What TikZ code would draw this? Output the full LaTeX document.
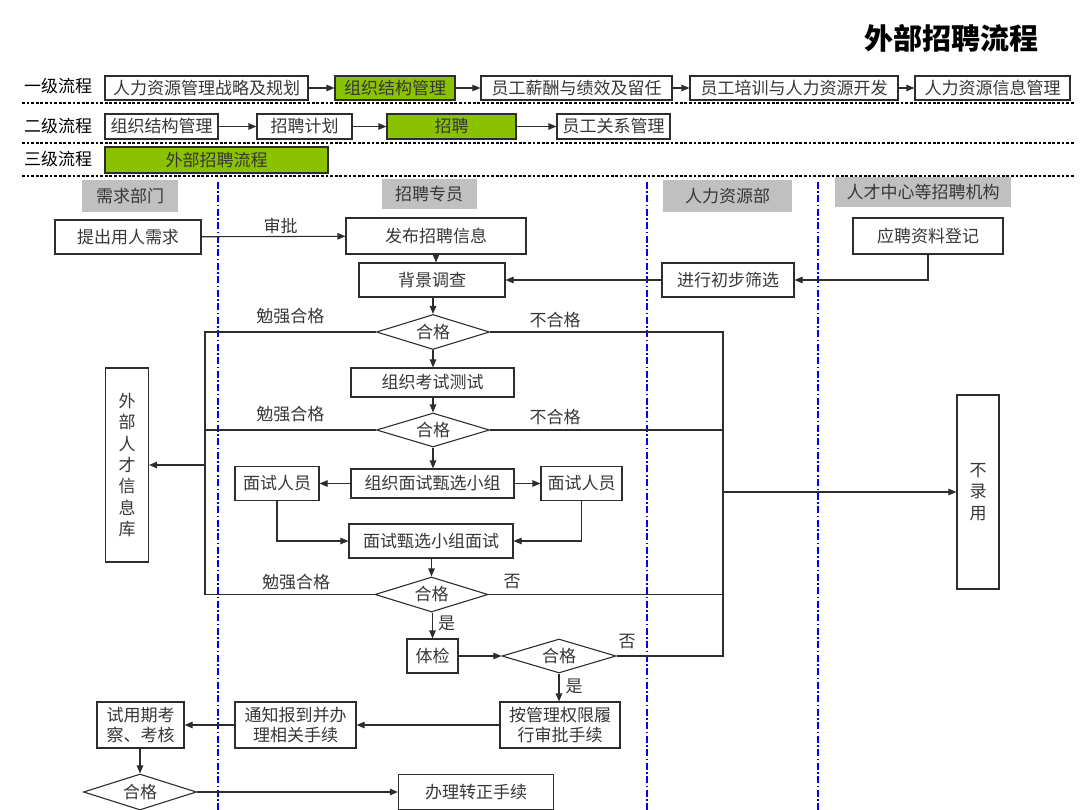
\documentclass[tikz,border=0pt]{standalone}
\usepackage{fontspec}
\setmainfont{Noto Sans CJK SC}
\usetikzlibrary{shapes.geometric,arrows.meta}
\definecolor{linec}{RGB}{45,45,45}
\definecolor{txtc}{RGB}{55,55,55}
\definecolor{grn}{RGB}{138,194,0}
\definecolor{hdrc}{RGB}{192,192,192}
\newcommand\myfs{\fontsize{17}{20}\selectfont}
\tikzset{
  bx/.style={draw=linec, line width=1.1pt, fill=white, inner sep=0pt, text=txtc, font=\myfs, align=center},
  gbx/.style={bx, fill=grn},
  hdr/.style={fill=hdrc, inner sep=0pt, text=txtc, font=\myfs},
  dia/.style={diamond, draw=linec, line width=1.1pt, aspect=3.2, inner sep=0pt, minimum width=113pt, minimum height=35pt, text=txtc, font=\myfs},
  ln/.style={draw=linec, line width=1.1pt},
  arr/.style={ln, -{Triangle[length=8pt,width=6.5pt]}},
  lane/.style={draw=blue, line width=1.2pt, dash pattern=on 7pt off 2.5pt on 1.5pt off 2.5pt},
  sepline/.style={draw=black, line width=2.8pt, dash pattern=on 2.8pt off 1.8pt},
  lbl/.style={text=txtc, inner sep=0pt, font=\myfs},
  rowlbl/.style={text=black, inner sep=0pt, font=\myfs},
}
\begin{document}
\begin{tikzpicture}[x=1pt,y=-1pt]
\useasboundingbox (0,0) rectangle (1080,810);
% title
\node[inner sep=0pt, font=\fontsize{29}{32}\selectfont\bfseries] (title) at (951,38) {外部招聘流程};
% row labels
\node[rowlbl] (l1) at (58,86) {一级流程};
\node[rowlbl] (l2) at (58,126) {二级流程};
\node[rowlbl] (l3) at (58,159) {三级流程};
% row 1
\node[bx, minimum width=203pt, minimum height=24pt] (a1) at (206.5,88) {人力资源管理战略及规划};
\node[gbx, minimum width=120pt, minimum height=24pt] (a2) at (395,88) {组织结构管理};
\node[bx, minimum width=191pt, minimum height=24pt] (a3) at (576.5,88) {员工薪酬与绩效及留任};
\node[bx, minimum width=208pt, minimum height=24pt] (a4) at (794,88) {员工培训与人力资源开发};
\node[bx, minimum width=155pt, minimum height=24pt] (a5) at (992.5,88) {人力资源信息管理};
\draw[arr] (a1) -- (a2);
\draw[arr] (a2) -- (a3);
\draw[arr] (a3) -- (a4);
\draw[arr] (a4) -- (a5);
% row 2
\node[bx, minimum width=113pt, minimum height=25pt] (b1) at (161.5,126.5) {组织结构管理};
\node[bx, minimum width=95pt, minimum height=25pt] (b2) at (304.5,126.5) {招聘计划};
\node[gbx, minimum width=129pt, minimum height=25pt] (b3) at (451.5,126.5) {招聘};
\node[bx, minimum width=113pt, minimum height=25pt] (b4) at (613.5,126.5) {员工关系管理};
\draw[arr] (b1) -- (b2);
\draw[arr] (b2) -- (b3);
\draw[arr] (b3) -- (b4);
% row 3
\node[gbx, minimum width=223pt, minimum height=26pt] (c1) at (216.5,160) {外部招聘流程};
% separators
\draw[sepline] (22,103) -- (1075,103);
\draw[sepline] (22,143) -- (1075,143);
\draw[sepline] (22,176) -- (1075,176);
% lanes
\draw[lane] (218,182) -- (218,810);
\draw[lane] (647,182) -- (647,810);
\draw[lane] (818,182) -- (818,810);
% headers
\node[hdr, minimum width=96pt, minimum height=32pt] (h1) at (130,196) {需求部门};
\node[hdr, minimum width=95pt, minimum height=30pt] (h2) at (429,194.5) {招聘专员};
\node[hdr, minimum width=129pt, minimum height=32pt] (h3) at (727.5,196) {人力资源部};
\node[hdr, minimum width=176pt, minimum height=30pt] (h4) at (923,192) {人才中心等招聘机构};
% flow
\node[bx, minimum width=146pt, minimum height=34pt] (n1) at (128,237) {提出用人需求};
\node[bx, minimum width=180pt, minimum height=36pt] (n2) at (436,236) {发布招聘信息};
\node[bx, minimum width=146pt, minimum height=34pt] (n3) at (432,280) {背景调查};
\node[bx, minimum width=150pt, minimum height=36pt] (n4) at (928,236) {应聘资料登记};
\node[bx, minimum width=132pt, minimum height=34pt] (n5) at (728,280) {进行初步筛选};
\draw[arr] (n1) -- node[lbl, above=2pt, pos=0.55] (t1) {审批} (n2);
\draw[arr] (n2.south) -- (n2.south |- n3.north);
\draw[arr] (n4.south) |- (n5.east);
\draw[arr] (n5) -- (n3);
\node[dia] (d1) at (433,332) {合格};
\draw[arr] (n3.south -| d1.north) -- (d1.north);
\node[bx, minimum width=163pt, minimum height=29pt] (n6) at (432.5,382.5) {组织考试测试};
\draw[arr] (d1.south) -- (d1.south |- n6.north);
\node[dia, minimum height=34pt] (d2) at (433,430) {合格};
\draw[arr] (n6.south -| d2.north) -- (d2.north);
\node[bx, minimum width=163pt, minimum height=29pt] (n7) at (432.5,483.5) {组织面试甄选小组};
\draw[arr] (d2.south) -- (d2.south |- n7.north);
\node[bx, minimum width=81pt, minimum height=34pt] (n8) at (581.5,483.5) {面试人员};
\node[bx, minimum width=84pt, minimum height=34pt] (n9) at (277,483.5) {面试人员};
\draw[arr] (n7) -- (n8);
\draw[arr] (n7) -- (n9);
\node[bx, minimum width=164pt, minimum height=34pt] (n10) at (431,541) {面试甄选小组面试};
\draw[arr] (n9.south) |- (n10.west);
\draw[arr] (n8.south) |- (n10.east);
\node[dia] (d3) at (431.5,594.5) {合格};
\draw[arr] (n10.south -| d3.north) -- (d3.north);
\node[bx, minimum width=51pt, minimum height=34pt] (n11) at (432.5,656) {体检};
\draw[arr] (d3.south -| n11.north) -- node[lbl, right=5pt, pos=0.4] (t2) {是} (n11.north);
\node[dia, minimum width=114pt, minimum height=34pt] (d4) at (559,656) {合格};
\draw[arr] (n11) -- (d4);
% side collectors
\coordinate (lt) at (205,332);
\coordinate (lb) at (205,594.5);
\coordinate (lm) at (205,465);
\coordinate (rt) at (723,332);
\coordinate (rb) at (723,656);
\coordinate (rm) at (723,492);
\node[bx, minimum width=43pt, minimum height=194pt, font=\fontsize{17}{21.3}\selectfont] (n13) at (127,465) {外\\部\\人\\才\\信\\息\\库};
\node[bx, minimum width=42pt, minimum height=194pt, font=\fontsize{17}{21.3}\selectfont] (n12) at (978,492) {不\\录\\用};
\draw[ln] (d1.west) -- node[lbl, above=7pt] (t3) {勉强合格} (d1.west -| lt) -- (lb) -- (d3.west);
\draw[ln] (d2.west) -- node[lbl, above=7pt] (t4) {勉强合格} (d2.west -| lt);
\node[lbl] (t5) at (296,582) {勉强合格};
\draw[arr] (lm) -- (lm -| n13.east);
\draw[ln] (d1.east) -- (rt) -- (rb) -- (d4.east);
\draw[ln] (d2.east) -- (d2.east -| rt);
\draw[ln] (d3.east) -- (d3.east -| rt);
\node[lbl] (t6) at (555,320) {不合格};
\node[lbl] (t7) at (555,417) {不合格};
\node[lbl] (t8) at (512,582) {否};
\node[lbl] (t9) at (627,642) {否};
\draw[arr] (rm) -- (rm -| n12.west);
% lower part
\node[bx, minimum width=120pt, minimum height=46pt] (n14) at (560,725) {按管理权限履\\行审批手续};
\draw[arr] (d4.south) -- node[lbl, right=6pt, pos=0.45] (t10) {是} (d4.south |- n14.north);
\node[bx, minimum width=121pt, minimum height=46pt] (n15) at (295.5,725) {通知报到并办\\理相关手续};
\node[bx, minimum width=87pt, minimum height=46pt] (n16) at (140.5,725) {试用期考\\察、考核};
\draw[arr] (n14) -- (n15);
\draw[arr] (n15) -- (n16);
\node[dia, minimum height=36pt] (d5) at (140,792) {合格};
\draw[arr] (n16.south -| d5.north) -- (d5.north);
\node[bx, minimum width=155pt, minimum height=35pt] (n17) at (476,792) {办理转正手续};
\draw[arr] (d5.east) -- (d5.east -| n17.west);
\end{tikzpicture}
\end{document}
